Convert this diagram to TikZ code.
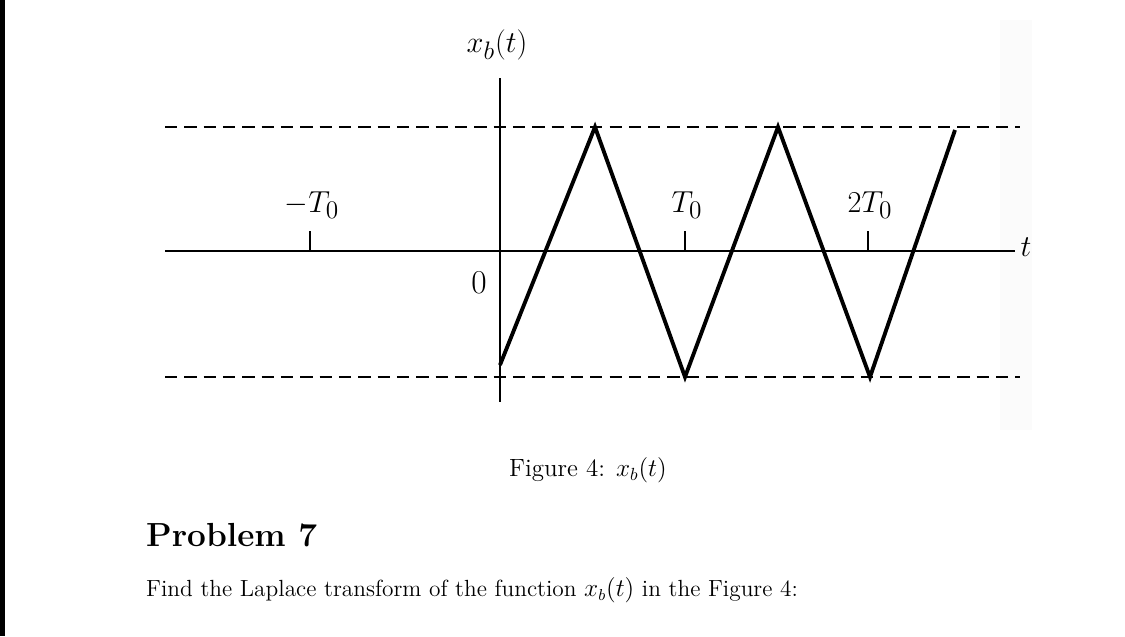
\documentclass[tikz,border=0pt]{standalone}
\begin{document}
\begin{tikzpicture}[x=0.02cm,y=-0.02cm,
  ax/.style={line width=1.2pt},
  dsh/.style={line width=1pt,dash pattern=on 7pt off 4pt},
  wave/.style={line width=2.2pt,line join=miter},
  lbl/.style={font=\fontsize{19}{22}\selectfont},
  txt/.style={font=\fontsize{13.3}{16}\selectfont}]
\useasboundingbox (0,0) rectangle (1125,636);
\fill[black] (0,0) rectangle (5,636);
\fill[gray!3] (1000,20) rectangle (1032,430);
\coordinate (hl) at (165,251); \coordinate (hr) at (1015,251);
\coordinate (vt) at (500,78); \coordinate (vb) at (500,402);
\draw[ax] (hl) -- (hr);
\draw[ax] (vt) -- (vb);
\coordinate (d1l) at (165,127); \coordinate (d1r) at (1020,127);
\coordinate (d2l) at (165,377); \coordinate (d2r) at (1020,377);
\draw[dsh] (d1l) -- (d1r);
\draw[dsh] (d2l) -- (d2r);
\coordinate (w0) at (500,365); \coordinate (w1) at (595,127);
\coordinate (w2) at (685,377); \coordinate (w3) at (778,127);
\coordinate (w4) at (870,377); \coordinate (w5) at (955,130);
\draw[wave] (w0) -- (w1) -- (w2) -- (w3) -- (w4) -- (w5);
\foreach \x in {310,685,868} \draw[line width=1pt] (\x,251) -- (\x,231);
\node[lbl] (mt) at (312,205) {$-T_0$};
\node[lbl] (t1) at (687,205) {$T_0$};
\node[lbl] (t2) at (870,205) {$2T_0$};
\node[lbl] (z) at (479,283) {0};
\node[lbl] (tt) at (1026,247) {$t$};
\node[lbl] (xb) at (497,45) {$x_b(t)$};
\node[font=\fontsize{14.2}{17}\selectfont] (cap) at (588,470) {Figure 4: $x_b(t)$};
\node[anchor=west,font=\bfseries\fontsize{19}{22}\selectfont] (pb) at (140,535) {Problem 7};
\node[txt,anchor=west] (fd) at (140,590) {Find the Laplace transform of the function $x_b(t)$ in the Figure 4:};
\end{tikzpicture}
\end{document}
